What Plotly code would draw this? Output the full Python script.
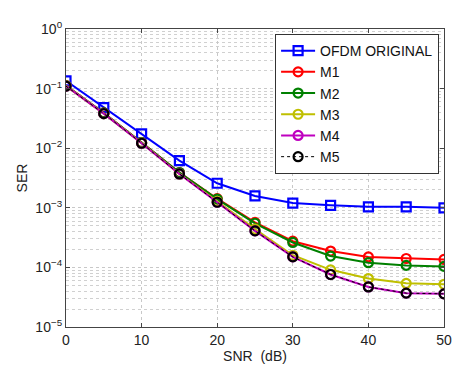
import plotly.graph_objects as go

snr = [0, 5, 10, 15, 20, 25, 30, 35, 40, 45, 50]
ofdm = [0.135, 0.048, 0.0174, 0.0062, 0.00258, 0.00158, 0.00120, 0.00110, 0.00104, 0.00104, 0.00100]
m1 = [0.112, 0.039, 0.0124, 0.0039, 0.00142, 0.00057, 0.000275, 0.000188, 0.000150, 0.000141, 0.000136]
m2 = [0.112, 0.039, 0.0124, 0.0039, 0.00140, 0.00055, 0.000262, 0.000155, 0.000120, 0.000108, 0.000104]
m3 = [0.111, 0.038, 0.0122, 0.0037, 0.00128, 0.00044, 0.000160, 0.000091, 0.000065, 0.000054, 0.000052]
m4 = [0.110, 0.038, 0.0121, 0.0037, 0.00124, 0.00041, 0.000150, 0.000076, 0.000047, 0.000037, 0.000036]
m5 = [0.110, 0.038, 0.0121, 0.0037, 0.00124, 0.00041, 0.000150, 0.000076, 0.000047, 0.000037, 0.000036]

series = [
    ("OFDM ORIGINAL", ofdm, "#0000ff", "square-open", "solid"),
    ("M1", m1, "#ff0000", "circle-open", "solid"),
    ("M2", m2, "#008000", "circle-open", "solid"),
    ("M3", m3, "#bfbf00", "circle-open", "solid"),
    ("M4", m4, "#bf00bf", "circle-open", "solid"),
    ("M5", m5, "#000000", "circle-open", "dot"),
]

fig = go.Figure()
for name, ys, col, sym, dash in series:
    fig.add_trace(go.Scatter(
        x=snr, y=ys, name=name, mode="lines+markers",
        line=dict(color=col, width=2 if dash == "solid" else 1, dash=dash),
        marker=dict(symbol=sym, size=9, color=col, line=dict(width=2.2, color=col)),
    ))

font = "Liberation Sans, Arial, sans-serif"
fig.update_layout(
    width=474, height=366,
    margin=dict(l=66, r=30, t=29, b=39, autoexpand=False),
    paper_bgcolor="white", plot_bgcolor="white",
    font=dict(family=font, size=14, color="#222"),
    showlegend=True,
    legend=dict(x=0.987, y=0.983, xanchor="right", yanchor="top",
                bordercolor="#333", borderwidth=1, bgcolor="white",
                font=dict(size=14, color="#111"), tracegroupgap=0,
                itemwidth=34),
)
fig.update_xaxes(
    range=[0, 50], tickvals=[0, 10, 20, 30, 40, 50],
    showgrid=True, gridcolor="#c8c8c8", griddash="dot", gridwidth=1,
    showline=True, linecolor="#444", linewidth=1.2, mirror="ticks",
    ticks="inside", ticklen=4, tickcolor="#444", zeroline=False,
    automargin=False,
    title=dict(text="SNR  (dB)", standoff=0, font=dict(size=14)),
    tickfont=dict(size=14),
)
fig.update_yaxes(
    type="log", range=[-5, 0],
    tickvals=[1e-5, 1e-4, 1e-3, 1e-2, 1e-1, 1],
    ticktext=["10<sup>−5</sup>", "10<sup>−4</sup>", "10<sup>−3</sup>", "10<sup>−2</sup>", "10<sup>−1</sup>", "10<sup>0</sup>"],
    showgrid=True, gridcolor="#c8c8c8", griddash="dot", gridwidth=1,
    minor=dict(dtick="D1", showgrid=True, gridcolor="#d0d0d0", griddash="dot", ticks=""),
    showline=True, linecolor="#444", linewidth=1.2, mirror="ticks",
    ticks="inside", ticklen=4, tickcolor="#444", zeroline=False,
    automargin=False,
    title=dict(text="SER", standoff=4, font=dict(size=14)),
    tickfont=dict(size=14),
)
fig.write_html("out.html", config={"displayModeBar": False},
               post_script="document.body.style.margin='0';document.body.style.overflow='hidden';")
